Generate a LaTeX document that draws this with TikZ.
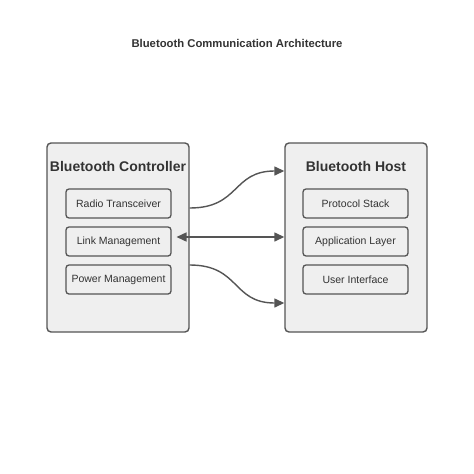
\documentclass[tikz,border=0pt]{standalone}
\usepackage{fontspec}
\setmainfont{Liberation Sans}
\usetikzlibrary{arrows.meta}
\definecolor{boxfill}{HTML}{EFEFEF}
\definecolor{boxline}{HTML}{555555}
\definecolor{txt}{HTML}{333333}
\definecolor{arr}{HTML}{555555}
\begin{document}
\begin{tikzpicture}[x=1pt,y=-1pt,
  container/.style={draw=boxline,fill=boxfill,line width=1.4pt,rounded corners=4pt,minimum width=142pt,minimum height=189pt,inner sep=0pt},
  item/.style={draw=boxline,fill=boxfill,line width=1.3pt,rounded corners=3pt,minimum width=105pt,minimum height=29pt,inner sep=0pt,font=\fontsize{10.5}{12}\selectfont,text=txt},
  ctitle/.style={font=\bfseries\fontsize{14}{16}\selectfont,text=txt},
  conn/.style={draw=arr,line width=1.4pt,-{Triangle[length=10pt,width=9pt]}},
  conn2/.style={draw=arr,line width=1.4pt,{Triangle[length=10pt,width=9pt]}-{Triangle[length=10pt,width=9pt]}}]
\useasboundingbox[fill=white] (0,0) rectangle (474,474);
\node[font=\bfseries\fontsize{11.3}{13}\selectfont,text=txt] (title) at (237,43.5) {Bluetooth Communication Architecture};
\node[container] (ctrl) at (118,237.5) {};
\node[container] (host) at (356,237.5) {};
\node[ctitle] (ctrlt) at (118,166) {Bluetooth Controller};
\node[ctitle] (hostt) at (356,166) {Bluetooth Host};
\node[item] (radio) at (118.5,203.5) {Radio Transceiver};
\node[item] (link) at (118.5,241.5) {Link Management};
\node[item] (power) at (118.5,279.5) {Power Management};
\node[item] (proto) at (355.5,203.5) {Protocol Stack};
\node[item] (app) at (355.5,241.5) {Application Layer};
\node[item] (ui) at (355.5,279.5) {User Interface};
\coordinate (a1s) at (ctrl.east |- 0,208);
\coordinate (a1e) at (host.west |- 0,171);
\coordinate (a2s) at (176.5,237);
\coordinate (a2e) at (host.west |- 0,237);
\coordinate (a3s) at (ctrl.east |- 0,265);
\coordinate (a3e) at (host.west |- 0,303);
\draw[conn] (a1s) .. controls (240,208) and (232,171) .. (a1e);
\draw[conn2] (a2s) -- (a2e);
\draw[conn] (a3s) .. controls (240,265) and (232,303) .. (a3e);
\end{tikzpicture}
\end{document}
